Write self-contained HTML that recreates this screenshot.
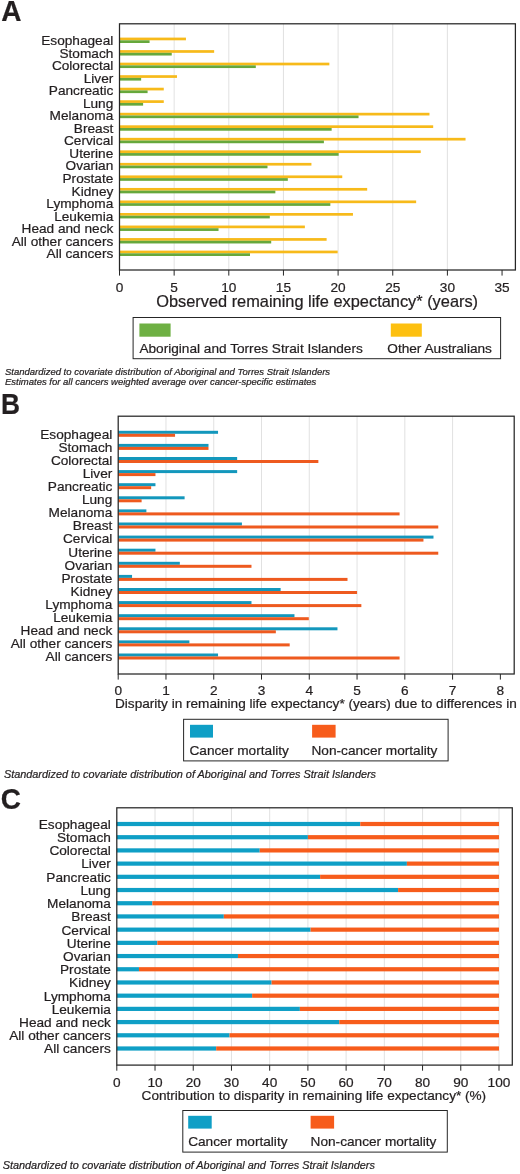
<!DOCTYPE html>
<html lang="en">
<head>
<meta charset="utf-8">
<title>Remaining life expectancy by cancer type</title>
<style>
html,body{margin:0;padding:0;background:#fff;}
body{width:520px;height:1174px;overflow:hidden;}
svg{display:block;}
svg text{font-family:"Liberation Sans",Arial,Helvetica,sans-serif;fill:#231f20;stroke:#231f20;stroke-width:0.22px;}
</style>
</head>
<body>
<svg width="520" height="1174" viewBox="0 0 520 1174">
<rect x="0" y="0" width="520" height="1174" fill="#ffffff"/>
<line x1="174.15" y1="23.8" x2="174.15" y2="270" stroke="#d9d9d9" stroke-width="0.8"/>
<line x1="228.8" y1="23.8" x2="228.8" y2="270" stroke="#d9d9d9" stroke-width="0.8"/>
<line x1="283.45" y1="23.8" x2="283.45" y2="270" stroke="#d9d9d9" stroke-width="0.8"/>
<line x1="338.1" y1="23.8" x2="338.1" y2="270" stroke="#d9d9d9" stroke-width="0.8"/>
<line x1="392.75" y1="23.8" x2="392.75" y2="270" stroke="#d9d9d9" stroke-width="0.8"/>
<line x1="447.4" y1="23.8" x2="447.4" y2="270" stroke="#d9d9d9" stroke-width="0.8"/>
<rect x="119.5" y="37.6" width="66.45" height="2.7" fill="#f7ba1a"/>
<rect x="119.5" y="40.3" width="30.06" height="2.7" fill="#66a83c"/>
<text x="113.3" y="45.15" font-size="13.65" text-anchor="end">Esophageal</text>
<rect x="119.5" y="50.13" width="94.65" height="2.7" fill="#f7ba1a"/>
<rect x="119.5" y="52.83" width="52.25" height="2.7" fill="#66a83c"/>
<text x="113.3" y="57.68" font-size="13.65" text-anchor="end">Stomach</text>
<rect x="119.5" y="62.66" width="209.86" height="2.7" fill="#f7ba1a"/>
<rect x="119.5" y="65.36" width="136.3" height="2.7" fill="#66a83c"/>
<text x="113.3" y="70.21" font-size="13.65" text-anchor="end">Colorectal</text>
<rect x="119.5" y="75.19" width="57.49" height="2.7" fill="#f7ba1a"/>
<rect x="119.5" y="77.89" width="21.64" height="2.7" fill="#66a83c"/>
<text x="113.3" y="82.74" font-size="13.65" text-anchor="end">Liver</text>
<rect x="119.5" y="87.72" width="44.27" height="2.7" fill="#f7ba1a"/>
<rect x="119.5" y="90.42" width="28.09" height="2.7" fill="#66a83c"/>
<text x="113.3" y="95.27" font-size="13.65" text-anchor="end">Pancreatic</text>
<rect x="119.5" y="100.25" width="44.27" height="2.7" fill="#f7ba1a"/>
<rect x="119.5" y="102.95" width="23.61" height="2.7" fill="#66a83c"/>
<text x="113.3" y="107.8" font-size="13.65" text-anchor="end">Lung</text>
<rect x="119.5" y="112.78" width="309.97" height="2.7" fill="#f7ba1a"/>
<rect x="119.5" y="115.48" width="239.04" height="2.7" fill="#66a83c"/>
<text x="113.3" y="120.33" font-size="13.65" text-anchor="end">Melanoma</text>
<rect x="119.5" y="125.31" width="313.69" height="2.7" fill="#f7ba1a"/>
<rect x="119.5" y="128.01" width="212.15" height="2.7" fill="#66a83c"/>
<text x="113.3" y="132.86" font-size="13.65" text-anchor="end">Breast</text>
<rect x="119.5" y="137.84" width="346.04" height="2.7" fill="#f7ba1a"/>
<rect x="119.5" y="140.54" width="204.39" height="2.7" fill="#66a83c"/>
<text x="113.3" y="145.39" font-size="13.65" text-anchor="end">Cervical</text>
<rect x="119.5" y="150.36" width="301.23" height="2.7" fill="#f7ba1a"/>
<rect x="119.5" y="153.06" width="219.15" height="2.7" fill="#66a83c"/>
<text x="113.3" y="157.91" font-size="13.65" text-anchor="end">Uterine</text>
<rect x="119.5" y="162.89" width="191.93" height="2.7" fill="#f7ba1a"/>
<rect x="119.5" y="165.59" width="147.99" height="2.7" fill="#66a83c"/>
<text x="113.3" y="170.44" font-size="13.65" text-anchor="end">Ovarian</text>
<rect x="119.5" y="175.42" width="222.75" height="2.7" fill="#f7ba1a"/>
<rect x="119.5" y="178.12" width="168.32" height="2.7" fill="#66a83c"/>
<text x="113.3" y="182.97" font-size="13.65" text-anchor="end">Prostate</text>
<rect x="119.5" y="187.95" width="247.67" height="2.7" fill="#f7ba1a"/>
<rect x="119.5" y="190.65" width="155.86" height="2.7" fill="#66a83c"/>
<text x="113.3" y="195.5" font-size="13.65" text-anchor="end">Kidney</text>
<rect x="119.5" y="200.48" width="296.64" height="2.7" fill="#f7ba1a"/>
<rect x="119.5" y="203.18" width="210.84" height="2.7" fill="#66a83c"/>
<text x="113.3" y="208.03" font-size="13.65" text-anchor="end">Lymphoma</text>
<rect x="119.5" y="213.01" width="233.46" height="2.7" fill="#f7ba1a"/>
<rect x="119.5" y="215.71" width="150.29" height="2.7" fill="#66a83c"/>
<text x="113.3" y="220.56" font-size="13.65" text-anchor="end">Leukemia</text>
<rect x="119.5" y="225.54" width="185.37" height="2.7" fill="#f7ba1a"/>
<rect x="119.5" y="228.24" width="99.03" height="2.7" fill="#66a83c"/>
<text x="113.3" y="233.09" font-size="13.65" text-anchor="end">Head and neck</text>
<rect x="119.5" y="238.07" width="207.12" height="2.7" fill="#f7ba1a"/>
<rect x="119.5" y="240.77" width="151.71" height="2.7" fill="#66a83c"/>
<text x="113.3" y="245.62" font-size="13.65" text-anchor="end">All other cancers</text>
<rect x="119.5" y="250.6" width="218.16" height="2.7" fill="#f7ba1a"/>
<rect x="119.5" y="253.3" width="130.5" height="2.7" fill="#66a83c"/>
<text x="113.3" y="258.15" font-size="13.65" text-anchor="end">All cancers</text>
<rect x="119.5" y="23.8" width="395.9" height="246.2" fill="none" stroke="#262626" stroke-width="1.25"/>
<line x1="119.5" y1="270" x2="119.5" y2="275.6" stroke="#262626" stroke-width="1"/>
<text x="119.5" y="291.7" font-size="13.65" text-anchor="middle">0</text>
<line x1="174.15" y1="270" x2="174.15" y2="275.6" stroke="#262626" stroke-width="1"/>
<text x="174.15" y="291.7" font-size="13.65" text-anchor="middle">5</text>
<line x1="228.8" y1="270" x2="228.8" y2="275.6" stroke="#262626" stroke-width="1"/>
<text x="228.8" y="291.7" font-size="13.65" text-anchor="middle">10</text>
<line x1="283.45" y1="270" x2="283.45" y2="275.6" stroke="#262626" stroke-width="1"/>
<text x="283.45" y="291.7" font-size="13.65" text-anchor="middle">15</text>
<line x1="338.1" y1="270" x2="338.1" y2="275.6" stroke="#262626" stroke-width="1"/>
<text x="338.1" y="291.7" font-size="13.65" text-anchor="middle">20</text>
<line x1="392.75" y1="270" x2="392.75" y2="275.6" stroke="#262626" stroke-width="1"/>
<text x="392.75" y="291.7" font-size="13.65" text-anchor="middle">25</text>
<line x1="447.4" y1="270" x2="447.4" y2="275.6" stroke="#262626" stroke-width="1"/>
<text x="447.4" y="291.7" font-size="13.65" text-anchor="middle">30</text>
<line x1="502.05" y1="270" x2="502.05" y2="275.6" stroke="#262626" stroke-width="1"/>
<text x="502.05" y="291.7" font-size="13.65" text-anchor="middle">35</text>
<text x="156.2" y="306.6" font-size="16.37" text-anchor="start">Observed remaining life expectancy* (years)</text>
<text transform="translate(1.2,21.2) scale(1,1.05)" x="0" y="0" font-size="28" font-weight="bold" stroke="none">A</text>
<rect x="133.1" y="317.5" width="367.5" height="41.2" fill="#fff" stroke="#262626" stroke-width="1"/>
<rect x="139.4" y="323.5" width="31.2" height="13.2" fill="#6eb043"/>
<text x="139.4" y="353" font-size="13.65" text-anchor="start">Aboriginal and Torres Strait Islanders</text>
<rect x="390.8" y="323.5" width="31" height="13.2" fill="#fdc010"/>
<text x="387.3" y="353" font-size="13.65" text-anchor="start">Other Australians</text>
<text x="5" y="375.2" font-size="9.5" text-anchor="start" font-style="italic">Standardized to covariate distribution of Aboriginal and Torres Strait Islanders</text>
<text x="5" y="385.1" font-size="9.5" text-anchor="start" font-style="italic">Estimates for all cancers weighted average over cancer-specific estimates</text>
<line x1="165.97" y1="416.2" x2="165.97" y2="674" stroke="#d9d9d9" stroke-width="0.8"/>
<line x1="213.74" y1="416.2" x2="213.74" y2="674" stroke="#d9d9d9" stroke-width="0.8"/>
<line x1="261.51" y1="416.2" x2="261.51" y2="674" stroke="#d9d9d9" stroke-width="0.8"/>
<line x1="309.28" y1="416.2" x2="309.28" y2="674" stroke="#d9d9d9" stroke-width="0.8"/>
<line x1="357.05" y1="416.2" x2="357.05" y2="674" stroke="#d9d9d9" stroke-width="0.8"/>
<line x1="404.82" y1="416.2" x2="404.82" y2="674" stroke="#d9d9d9" stroke-width="0.8"/>
<line x1="452.59" y1="416.2" x2="452.59" y2="674" stroke="#d9d9d9" stroke-width="0.8"/>
<rect x="118.2" y="430.8" width="99.84" height="3" fill="#1397bc"/>
<rect x="118.2" y="433.8" width="56.85" height="3" fill="#ee5a1f"/>
<text x="112.3" y="438.65" font-size="13.65" text-anchor="end">Esophageal</text>
<rect x="118.2" y="443.9" width="90.29" height="3" fill="#1397bc"/>
<rect x="118.2" y="446.9" width="90.29" height="3" fill="#ee5a1f"/>
<text x="112.3" y="451.75" font-size="13.65" text-anchor="end">Stomach</text>
<rect x="118.2" y="457" width="118.95" height="3" fill="#1397bc"/>
<rect x="118.2" y="460" width="200.16" height="3" fill="#ee5a1f"/>
<text x="112.3" y="464.85" font-size="13.65" text-anchor="end">Colorectal</text>
<rect x="118.2" y="470.1" width="118.95" height="3" fill="#1397bc"/>
<rect x="118.2" y="473.1" width="37.26" height="3" fill="#ee5a1f"/>
<text x="112.3" y="477.95" font-size="13.65" text-anchor="end">Liver</text>
<rect x="118.2" y="483.2" width="37.26" height="3" fill="#1397bc"/>
<rect x="118.2" y="486.2" width="32.96" height="3" fill="#ee5a1f"/>
<text x="112.3" y="491.05" font-size="13.65" text-anchor="end">Pancreatic</text>
<rect x="118.2" y="496.3" width="66.4" height="3" fill="#1397bc"/>
<rect x="118.2" y="499.3" width="23.41" height="3" fill="#ee5a1f"/>
<text x="112.3" y="504.15" font-size="13.65" text-anchor="end">Lung</text>
<rect x="118.2" y="509.4" width="28.18" height="3" fill="#1397bc"/>
<rect x="118.2" y="512.4" width="281.37" height="3" fill="#ee5a1f"/>
<text x="112.3" y="517.25" font-size="13.65" text-anchor="end">Melanoma</text>
<rect x="118.2" y="522.5" width="123.72" height="3" fill="#1397bc"/>
<rect x="118.2" y="525.5" width="320.06" height="3" fill="#ee5a1f"/>
<text x="112.3" y="530.35" font-size="13.65" text-anchor="end">Breast</text>
<rect x="118.2" y="535.6" width="315.28" height="3" fill="#1397bc"/>
<rect x="118.2" y="538.6" width="305.25" height="3" fill="#ee5a1f"/>
<text x="112.3" y="543.45" font-size="13.65" text-anchor="end">Cervical</text>
<rect x="118.2" y="548.7" width="37.26" height="3" fill="#1397bc"/>
<rect x="118.2" y="551.7" width="320.06" height="3" fill="#ee5a1f"/>
<text x="112.3" y="556.55" font-size="13.65" text-anchor="end">Uterine</text>
<rect x="118.2" y="561.8" width="61.62" height="3" fill="#1397bc"/>
<rect x="118.2" y="564.8" width="133.28" height="3" fill="#ee5a1f"/>
<text x="112.3" y="569.65" font-size="13.65" text-anchor="end">Ovarian</text>
<rect x="118.2" y="574.9" width="13.85" height="3" fill="#1397bc"/>
<rect x="118.2" y="577.9" width="229.3" height="3" fill="#ee5a1f"/>
<text x="112.3" y="582.75" font-size="13.65" text-anchor="end">Prostate</text>
<rect x="118.2" y="588" width="162.42" height="3" fill="#1397bc"/>
<rect x="118.2" y="591" width="238.85" height="3" fill="#ee5a1f"/>
<text x="112.3" y="595.85" font-size="13.65" text-anchor="end">Kidney</text>
<rect x="118.2" y="601.1" width="133.28" height="3" fill="#1397bc"/>
<rect x="118.2" y="604.1" width="243.15" height="3" fill="#ee5a1f"/>
<text x="112.3" y="608.95" font-size="13.65" text-anchor="end">Lymphoma</text>
<rect x="118.2" y="614.2" width="176.27" height="3" fill="#1397bc"/>
<rect x="118.2" y="617.2" width="190.6" height="3" fill="#ee5a1f"/>
<text x="112.3" y="622.05" font-size="13.65" text-anchor="end">Leukemia</text>
<rect x="118.2" y="627.3" width="219.26" height="3" fill="#1397bc"/>
<rect x="118.2" y="630.3" width="157.64" height="3" fill="#ee5a1f"/>
<text x="112.3" y="635.15" font-size="13.65" text-anchor="end">Head and neck</text>
<rect x="118.2" y="640.4" width="71.18" height="3" fill="#1397bc"/>
<rect x="118.2" y="643.4" width="171.49" height="3" fill="#ee5a1f"/>
<text x="112.3" y="648.25" font-size="13.65" text-anchor="end">All other cancers</text>
<rect x="118.2" y="653.5" width="99.84" height="3" fill="#1397bc"/>
<rect x="118.2" y="656.5" width="281.37" height="3" fill="#ee5a1f"/>
<text x="112.3" y="661.35" font-size="13.65" text-anchor="end">All cancers</text>
<rect x="118.2" y="416.2" width="396" height="257.8" fill="none" stroke="#262626" stroke-width="1.25"/>
<line x1="118.2" y1="674" x2="118.2" y2="679.6" stroke="#262626" stroke-width="1"/>
<text x="118.2" y="695.2" font-size="13.65" text-anchor="middle">0</text>
<line x1="165.97" y1="674" x2="165.97" y2="679.6" stroke="#262626" stroke-width="1"/>
<text x="165.97" y="695.2" font-size="13.65" text-anchor="middle">1</text>
<line x1="213.74" y1="674" x2="213.74" y2="679.6" stroke="#262626" stroke-width="1"/>
<text x="213.74" y="695.2" font-size="13.65" text-anchor="middle">2</text>
<line x1="261.51" y1="674" x2="261.51" y2="679.6" stroke="#262626" stroke-width="1"/>
<text x="261.51" y="695.2" font-size="13.65" text-anchor="middle">3</text>
<line x1="309.28" y1="674" x2="309.28" y2="679.6" stroke="#262626" stroke-width="1"/>
<text x="309.28" y="695.2" font-size="13.65" text-anchor="middle">4</text>
<line x1="357.05" y1="674" x2="357.05" y2="679.6" stroke="#262626" stroke-width="1"/>
<text x="357.05" y="695.2" font-size="13.65" text-anchor="middle">5</text>
<line x1="404.82" y1="674" x2="404.82" y2="679.6" stroke="#262626" stroke-width="1"/>
<text x="404.82" y="695.2" font-size="13.65" text-anchor="middle">6</text>
<line x1="452.59" y1="674" x2="452.59" y2="679.6" stroke="#262626" stroke-width="1"/>
<text x="452.59" y="695.2" font-size="13.65" text-anchor="middle">7</text>
<line x1="500.36" y1="674" x2="500.36" y2="679.6" stroke="#262626" stroke-width="1"/>
<text x="500.36" y="695.2" font-size="13.65" text-anchor="middle">8</text>
<text x="115" y="708" font-size="13.6" text-anchor="start">Disparity in remaining life expectancy* (years) due to differences in</text>
<text transform="translate(0.9,413.8) scale(0.94,1.06)" x="0" y="0" font-size="28" font-weight="bold" stroke="none">B</text>
<rect x="183.6" y="719.3" width="264.5" height="41.6" fill="#fff" stroke="#262626" stroke-width="1"/>
<rect x="190" y="724.8" width="23" height="12.8" fill="#0f9fc6"/>
<text x="189.5" y="754.8" font-size="13.65" text-anchor="start">Cancer mortality</text>
<rect x="312.1" y="724.8" width="23.5" height="12.8" fill="#f75c1b"/>
<text x="311.5" y="754.8" font-size="13.65" text-anchor="start">Non-cancer mortality</text>
<text x="3.9" y="777.6" font-size="10.88" text-anchor="start" font-style="italic">Standardized to covariate distribution of Aboriginal and Torres Strait Islanders</text>
<line x1="155.02" y1="807.8" x2="155.02" y2="1065.1" stroke="#d9d9d9" stroke-width="0.8"/>
<line x1="193.24" y1="807.8" x2="193.24" y2="1065.1" stroke="#d9d9d9" stroke-width="0.8"/>
<line x1="231.46" y1="807.8" x2="231.46" y2="1065.1" stroke="#d9d9d9" stroke-width="0.8"/>
<line x1="269.68" y1="807.8" x2="269.68" y2="1065.1" stroke="#d9d9d9" stroke-width="0.8"/>
<line x1="307.9" y1="807.8" x2="307.9" y2="1065.1" stroke="#d9d9d9" stroke-width="0.8"/>
<line x1="346.12" y1="807.8" x2="346.12" y2="1065.1" stroke="#d9d9d9" stroke-width="0.8"/>
<line x1="384.34" y1="807.8" x2="384.34" y2="1065.1" stroke="#d9d9d9" stroke-width="0.8"/>
<line x1="422.56" y1="807.8" x2="422.56" y2="1065.1" stroke="#d9d9d9" stroke-width="0.8"/>
<line x1="460.78" y1="807.8" x2="460.78" y2="1065.1" stroke="#d9d9d9" stroke-width="0.8"/>
<line x1="499" y1="807.8" x2="499" y2="1065.1" stroke="#d9d9d9" stroke-width="0.8"/>
<rect x="116.8" y="821.9" width="243.46" height="4.2" fill="#0f9fc6"/>
<rect x="360.26" y="821.9" width="138.74" height="4.2" fill="#f75c1b"/>
<text x="110.8" y="828.85" font-size="13.65" text-anchor="end">Esophageal</text>
<rect x="116.8" y="835.11" width="191.1" height="4.2" fill="#0f9fc6"/>
<rect x="307.9" y="835.11" width="191.1" height="4.2" fill="#f75c1b"/>
<text x="110.8" y="842.06" font-size="13.65" text-anchor="end">Stomach</text>
<rect x="116.8" y="848.31" width="142.94" height="4.2" fill="#0f9fc6"/>
<rect x="259.74" y="848.31" width="239.26" height="4.2" fill="#f75c1b"/>
<text x="110.8" y="855.26" font-size="13.65" text-anchor="end">Colorectal</text>
<rect x="116.8" y="861.52" width="290.09" height="4.2" fill="#0f9fc6"/>
<rect x="406.89" y="861.52" width="92.11" height="4.2" fill="#f75c1b"/>
<text x="110.8" y="868.47" font-size="13.65" text-anchor="end">Liver</text>
<rect x="116.8" y="874.72" width="203.33" height="4.2" fill="#0f9fc6"/>
<rect x="320.13" y="874.72" width="178.87" height="4.2" fill="#f75c1b"/>
<text x="110.8" y="881.67" font-size="13.65" text-anchor="end">Pancreatic</text>
<rect x="116.8" y="887.93" width="281.3" height="4.2" fill="#0f9fc6"/>
<rect x="398.1" y="887.93" width="100.9" height="4.2" fill="#f75c1b"/>
<text x="110.8" y="894.88" font-size="13.65" text-anchor="end">Lung</text>
<rect x="116.8" y="901.14" width="35.54" height="4.2" fill="#0f9fc6"/>
<rect x="152.34" y="901.14" width="346.66" height="4.2" fill="#f75c1b"/>
<text x="110.8" y="908.09" font-size="13.65" text-anchor="end">Melanoma</text>
<rect x="116.8" y="914.34" width="107.02" height="4.2" fill="#0f9fc6"/>
<rect x="223.82" y="914.34" width="275.18" height="4.2" fill="#f75c1b"/>
<text x="110.8" y="921.29" font-size="13.65" text-anchor="end">Breast</text>
<rect x="116.8" y="927.55" width="193.78" height="4.2" fill="#0f9fc6"/>
<rect x="310.58" y="927.55" width="188.42" height="4.2" fill="#f75c1b"/>
<text x="110.8" y="934.5" font-size="13.65" text-anchor="end">Cervical</text>
<rect x="116.8" y="940.75" width="40.51" height="4.2" fill="#0f9fc6"/>
<rect x="157.31" y="940.75" width="341.69" height="4.2" fill="#f75c1b"/>
<text x="110.8" y="947.7" font-size="13.65" text-anchor="end">Uterine</text>
<rect x="116.8" y="953.96" width="121.16" height="4.2" fill="#0f9fc6"/>
<rect x="237.96" y="953.96" width="261.04" height="4.2" fill="#f75c1b"/>
<text x="110.8" y="960.91" font-size="13.65" text-anchor="end">Ovarian</text>
<rect x="116.8" y="967.16" width="22.17" height="4.2" fill="#0f9fc6"/>
<rect x="138.97" y="967.16" width="360.03" height="4.2" fill="#f75c1b"/>
<text x="110.8" y="974.11" font-size="13.65" text-anchor="end">Prostate</text>
<rect x="116.8" y="980.37" width="154.79" height="4.2" fill="#0f9fc6"/>
<rect x="271.59" y="980.37" width="227.41" height="4.2" fill="#f75c1b"/>
<text x="110.8" y="987.32" font-size="13.65" text-anchor="end">Kidney</text>
<rect x="116.8" y="993.58" width="135.3" height="4.2" fill="#0f9fc6"/>
<rect x="252.1" y="993.58" width="246.9" height="4.2" fill="#f75c1b"/>
<text x="110.8" y="1000.53" font-size="13.65" text-anchor="end">Lymphoma</text>
<rect x="116.8" y="1006.78" width="183.07" height="4.2" fill="#0f9fc6"/>
<rect x="299.87" y="1006.78" width="199.13" height="4.2" fill="#f75c1b"/>
<text x="110.8" y="1013.73" font-size="13.65" text-anchor="end">Leukemia</text>
<rect x="116.8" y="1019.99" width="222.44" height="4.2" fill="#0f9fc6"/>
<rect x="339.24" y="1019.99" width="159.76" height="4.2" fill="#f75c1b"/>
<text x="110.8" y="1026.94" font-size="13.65" text-anchor="end">Head and neck</text>
<rect x="116.8" y="1033.19" width="112.75" height="4.2" fill="#0f9fc6"/>
<rect x="229.55" y="1033.19" width="269.45" height="4.2" fill="#f75c1b"/>
<text x="110.8" y="1040.14" font-size="13.65" text-anchor="end">All other cancers</text>
<rect x="116.8" y="1046.4" width="99.37" height="4.2" fill="#0f9fc6"/>
<rect x="216.17" y="1046.4" width="282.83" height="4.2" fill="#f75c1b"/>
<text x="110.8" y="1053.35" font-size="13.65" text-anchor="end">All cancers</text>
<rect x="116.8" y="807.8" width="395.5" height="257.3" fill="none" stroke="#262626" stroke-width="1.25"/>
<line x1="116.8" y1="1065.1" x2="116.8" y2="1070.7" stroke="#262626" stroke-width="1"/>
<text x="116.8" y="1086.8" font-size="13.65" text-anchor="middle">0</text>
<line x1="155.02" y1="1065.1" x2="155.02" y2="1070.7" stroke="#262626" stroke-width="1"/>
<text x="155.02" y="1086.8" font-size="13.65" text-anchor="middle">10</text>
<line x1="193.24" y1="1065.1" x2="193.24" y2="1070.7" stroke="#262626" stroke-width="1"/>
<text x="193.24" y="1086.8" font-size="13.65" text-anchor="middle">20</text>
<line x1="231.46" y1="1065.1" x2="231.46" y2="1070.7" stroke="#262626" stroke-width="1"/>
<text x="231.46" y="1086.8" font-size="13.65" text-anchor="middle">30</text>
<line x1="269.68" y1="1065.1" x2="269.68" y2="1070.7" stroke="#262626" stroke-width="1"/>
<text x="269.68" y="1086.8" font-size="13.65" text-anchor="middle">40</text>
<line x1="307.9" y1="1065.1" x2="307.9" y2="1070.7" stroke="#262626" stroke-width="1"/>
<text x="307.9" y="1086.8" font-size="13.65" text-anchor="middle">50</text>
<line x1="346.12" y1="1065.1" x2="346.12" y2="1070.7" stroke="#262626" stroke-width="1"/>
<text x="346.12" y="1086.8" font-size="13.65" text-anchor="middle">60</text>
<line x1="384.34" y1="1065.1" x2="384.34" y2="1070.7" stroke="#262626" stroke-width="1"/>
<text x="384.34" y="1086.8" font-size="13.65" text-anchor="middle">70</text>
<line x1="422.56" y1="1065.1" x2="422.56" y2="1070.7" stroke="#262626" stroke-width="1"/>
<text x="422.56" y="1086.8" font-size="13.65" text-anchor="middle">80</text>
<line x1="460.78" y1="1065.1" x2="460.78" y2="1070.7" stroke="#262626" stroke-width="1"/>
<text x="460.78" y="1086.8" font-size="13.65" text-anchor="middle">90</text>
<line x1="499" y1="1065.1" x2="499" y2="1070.7" stroke="#262626" stroke-width="1"/>
<text x="499" y="1086.8" font-size="13.65" text-anchor="middle">100</text>
<text x="141.6" y="1099.5" font-size="13.6" text-anchor="start">Contribution to disparity in remaining life expectancy* (%)</text>
<text transform="translate(0.8,808.9) scale(1,1.05)" x="0" y="0" font-size="28" font-weight="bold" stroke="none">C</text>
<rect x="182.8" y="1110.5" width="264.5" height="41.6" fill="#fff" stroke="#262626" stroke-width="1"/>
<rect x="188.2" y="1115.8" width="23.5" height="12.8" fill="#0f9fc6"/>
<text x="188.2" y="1146" font-size="13.65" text-anchor="start">Cancer mortality</text>
<rect x="310.6" y="1115.8" width="23.5" height="12.8" fill="#f75c1b"/>
<text x="310.6" y="1146" font-size="13.65" text-anchor="start">Non-cancer mortality</text>
<text x="2.7" y="1168.7" font-size="10.88" text-anchor="start" font-style="italic">Standardized to covariate distribution of Aboriginal and Torres Strait Islanders</text>
</svg>
</body>
</html>
